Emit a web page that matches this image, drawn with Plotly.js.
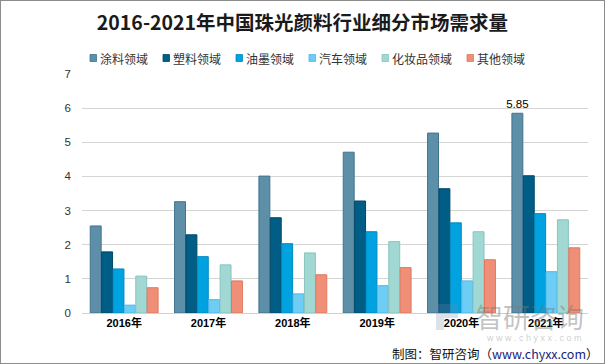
<!DOCTYPE html>
<html><head><meta charset="utf-8">
<script src="https://cdn.plot.ly/plotly-3.0.1.min.js"></script>
<style>html,body{margin:0;padding:0;background:#fff}#c{width:605px;height:364px;box-sizing:border-box;border:1px solid #8c8c8c}</style>
</head><body><div id="c"></div>
<script>
const categories = ['2016年','2017年','2018年','2019年','2020年','2021年'];
const seriesNames = ['涂料领域','塑料领域','油墨领域','汽车领域','化妆品领域','其他领域'];
const coating   = [2.55, 3.26, 4.01, 4.71, 5.27, 5.85];
const plastic   = [1.79, 2.29, 2.79, 3.28, 3.64, 4.02];
const ink       = [1.29, 1.65, 2.03, 2.38, 2.64, 2.91];
const auto      = [0.23, 0.39, 0.56, 0.80, 0.94, 1.21];
const cosmetic  = [1.08, 1.41, 1.76, 2.09, 2.38, 2.73];
const other     = [0.74, 0.94, 1.12, 1.33, 1.56, 1.91];
const yTicks = [0,1,2,3,4,5,6,7];

const values = [coating, plastic, ink, auto, cosmetic, other];
const fills = ['#5E8FA8','#005E86','#00A3DF','#6DCDF5','#A2D8D3','#F08F77'];
const lines = ['#3F7490','#004766','#0089BF','#4FB8E6','#87C4BF','#E0775E'];

const M = {l:81, r:16, t:73, b:50};
const W = 603, H = 362;
const pw = W - M.l - M.r, ph = H - M.t - M.b;
const px2x = p => (p - 1 - M.l) / pw;      // image px -> paper x
const py2y = p => (H - M.b - (p - 1)) / ph; // image px -> paper y

const traces = values.map((v,i)=>({
  type:'bar', name:seriesNames[i], x:categories, y:v,
  marker:{color:fills[i], line:{color:lines[i], width:1}},
  text: i===0 ? v.map((d,j)=> j===v.length-1 ? d.toFixed(2) : '') : undefined,
  textposition: i===0 ? 'outside' : 'none',
  constraintext:'none',
  textfont:{family:'Liberation Sans, Arial, sans-serif', size:11.5, color:'#000'},
  cliponaxis:false, showlegend:false,
  hoverinfo:'none'
}));

// manual legend (built from seriesNames / fills)
const legShapes = [], legAnn = [];
let cx = 90;
const legY = 58, fs = 12;
seriesNames.forEach((n,i)=>{
  legShapes.push({type:'rect', xref:'paper', yref:'paper', xsizemode:'pixel', ysizemode:'pixel',
    xanchor:px2x(cx), yanchor:py2y(legY), x0:0, x1:6.5, y0:-3.5, y1:3.5,
    fillcolor:fills[i], line:{color:lines[i], width:0.8}});
  legAnn.push({text:n, xref:'paper', yref:'paper', x:px2x(cx+8), y:py2y(legY), xanchor:'left', yanchor:'middle',
    showarrow:false, font:{family:'Noto Sans CJK SC, sans-serif', size:fs, color:'#333'}});
  cx += 25 + fs*n.length;
});

const layout = {
  width:W, height:H, margin:M,
  paper_bgcolor:'#fff', plot_bgcolor:'#fff',
  barmode:'group', bargap:0.19, bargroupgap:0.04,
  showlegend:false,
  title:{text:'<b>2016-2021年中国珠光颜料行业细分市场需求量</b>', x:0.5, xanchor:'center', y:(H-22)/H, yanchor:'middle',
    font:{family:'Noto Sans CJK SC, sans-serif', size:19.5, color:'#1a1a1a'}},
  xaxis:{showline:true, linecolor:'#D0D0D0', linewidth:1, ticks:'',
    tickfont:{family:'Liberation Sans, Noto Sans CJK SC, sans-serif', size:11, color:'#000', weight:'bold'}},
  yaxis:{range:[0,7], tickvals:yTicks, showgrid:true, gridcolor:'#D4D4D4', gridwidth:1, zeroline:false,
    showline:false, ticks:'', ticklen:0, ticklabelstandoff:10,
    tickfont:{family:'Liberation Sans, Arial, sans-serif', size:11.5, color:'#333'}},
  annotations:legAnn.concat([
    {text:'制图：智研咨询（<span style="color:#1a237e">www.chyxx.com</span>）', xref:'paper', yref:'paper', x:px2x(601), y:py2y(353), xanchor:'right', yanchor:'middle', showarrow:false,
     font:{family:'Noto Sans CJK SC, sans-serif', size:12.5, color:'#111'}},
    {text:'智研咨询', xref:'paper', yref:'paper', x:px2x(586), y:py2y(316), xanchor:'right', yanchor:'middle', showarrow:false,
     font:{family:'Noto Sans CJK SC, sans-serif', size:27, color:'rgba(120,120,120,0.45)'}},
    {text:'w w w . c h y x x . c o m', xref:'paper', yref:'paper', x:px2x(584), y:py2y(338), xanchor:'right', yanchor:'middle', showarrow:false,
     font:{family:'Liberation Sans, sans-serif', size:9, color:'rgba(140,140,140,0.45)'}}
  ]),
  shapes:legShapes.concat([
    {type:'path', xref:'paper', yref:'paper', path:`M ${px2x(436)} ${py2y(330)} L ${px2x(436)} ${py2y(304)} L ${px2x(458)} ${py2y(304)} L ${px2x(458)} ${py2y(318)} L ${px2x(444)} ${py2y(318)} L ${px2x(444)} ${py2y(330)} Z`,
     line:{width:0}, fillcolor:'rgba(110,140,170,0.25)'}
  ])
};
Plotly.newPlot('c', traces, layout, {displayModeBar:false, staticPlot:true});
</script></body></html>
